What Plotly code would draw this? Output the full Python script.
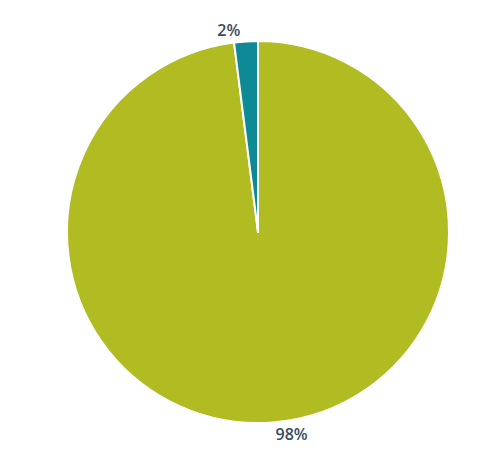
import plotly.graph_objects as go

labels = ["Teil B", "Teil A"]
values = [98, 2]
colors = ["#b0bc22", "#0e8a97"]

fig = go.Figure(
    go.Pie(
        labels=labels,
        values=values,
        sort=False,
        direction="counterclockwise",
        rotation=0,
        marker={"colors": colors, "line": {"color": "white", "width": 2}},
        texttemplate="%{percent:.0%}",
        textposition="outside",
        textfont={"family": "Open Sans", "size": 16, "color": "#3b4b5b", "weight": 600},
        hoverinfo="label+percent",
        showlegend=False,
    )
)
fig.update_layout(
    width=500,
    height=455,
    margin={"l": 0, "r": 18, "t": 33, "b": 40},
    paper_bgcolor="white",
    plot_bgcolor="white",
)
fig.write_html("out.html")
